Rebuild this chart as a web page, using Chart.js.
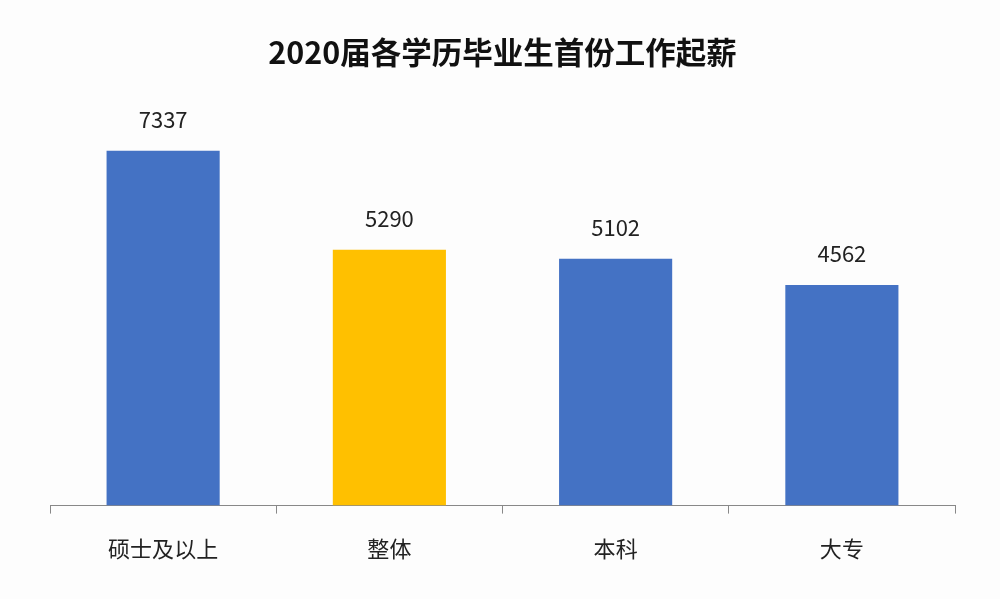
<!DOCTYPE html>
<html>
<head>
<meta charset="utf-8">
<script src="https://cdn.jsdelivr.net/npm/chart.js@4/dist/chart.umd.min.js"></script>
<style>
  html, body { margin: 0; padding: 0; background: #fdfdfd; }
  #wrap { width: 1000px; height: 599px; }
</style>
</head>
<body>
<div id="wrap"><canvas id="salaryChart" width="1000" height="599"></canvas></div>
<script>
const categories = ['硕士及以上', '整体', '本科', '大专'];
const salaries = [7337, 5290, 5102, 4562];
const barColors = ['#4472C4', '#FFC000', '#4472C4', '#4472C4'];
const titleText = '2020届各学历毕业生首份工作起薪';

const FONT = '"Noto Sans CJK SC", "Noto Sans", sans-serif';

// etiquetas de valor encima de cada barra
const valueLabels = {
    id: 'valueLabels',
    afterDatasetsDraw(chart) {
        const ctx = chart.ctx;
        const meta = chart.getDatasetMeta(0);
        ctx.save();
        ctx.font = '22px ' + FONT;
        ctx.fillStyle = '#222';
        ctx.textAlign = 'center';
        ctx.textBaseline = 'middle';
        meta.data.forEach((bar, i) => {
            ctx.fillText(String(salaries[i]), bar.x, bar.y - 31);
        });
        ctx.restore();
    }
};

const ctx = document.getElementById('salaryChart').getContext('2d');
new Chart(ctx, {
    type: 'bar',
    data: {
        labels: categories,
        datasets: [{ data: salaries, backgroundColor: barColors, borderWidth: 0, barPercentage: 0.5, categoryPercentage: 1 }]
    },
    options: {
        responsive: false,
        animation: false,
        layout: { padding: { left: 50, right: 45, top: 0, bottom: 15 } },
        plugins: {
            legend: { display: false },
            tooltip: { enabled: false },
            title: {
                display: true, text: titleText, color: '#111',
                font: { family: FONT, size: 30.5, weight: 'bold', lineHeight: 1.2 },
                padding: { top: 34, bottom: 48 }
            }
        },
        scales: {
            x: {
                grid: { display: true, drawOnChartArea: false, drawTicks: true, tickLength: 8, color: '#888', offset: true },
                border: { display: true, color: '#888', width: 1 },
                ticks: { color: '#222', padding: 22, font: { family: FONT, size: 22 } }
            },
            y: { display: false, min: 0, max: 8000 }
        }
    },
    plugins: [valueLabels]
});
</script>
</body>
</html>
